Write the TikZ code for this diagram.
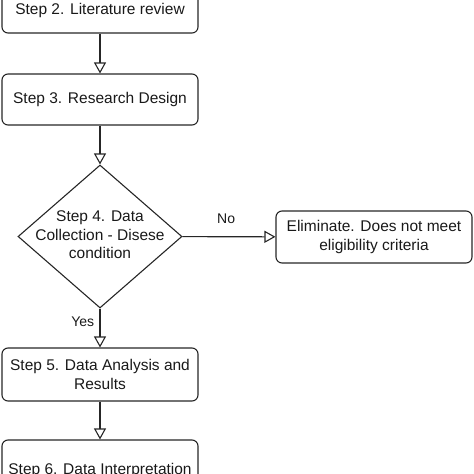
\documentclass[tikz,border=0pt]{standalone}
\usepackage{fontspec}
\setmainfont{Liberation Sans}
\usetikzlibrary{shapes.geometric,arrows.meta}
\begin{document}
\begin{tikzpicture}[x=1pt,y=-1pt,
  line width=1.1pt,
  every node/.style={font=\fontsize{15.5}{18.5}\selectfont, text=black!90},
  stepbox/.style={draw=black!85, rounded corners=6pt, minimum width=196pt, align=center, inner sep=0pt},
  conn/.style={draw=black!85, -{Triangle[open,length=11pt,width=12pt]}},
  lbl/.style={font=\fontsize{14}{16}\selectfont}]
\useasboundingbox (0,0) rectangle (474,474);
\node[stepbox, minimum height=46pt] (s2) at (100,10) {Step 2. Literature review};
\node[stepbox, minimum height=51pt] (s3) at (100,99.5) {Step 3. Research Design};
\node[draw=black!85, diamond, minimum width=164pt, minimum height=143pt, inner sep=0pt] (s4) at (100,236.5) {};
\node[align=center] (s4t) at (100,235) {Step 4. Data\\Collection - Disese\\condition};
\node[stepbox, minimum width=196pt, minimum height=52pt] (el) at (374,237) {Eliminate. Does not meet\\eligibility criteria};
\node[stepbox, minimum height=53pt] (s5) at (100,374.5) {Step 5. Data Analysis and\\Results};
\node[stepbox, minimum height=60pt] (s6) at (100,470) {Step 6. Data Interpretation};
\draw[conn] (s2) -- (s3);
\draw[conn] (s3) -- (s4);
\draw[conn] (s4) -- node[lbl, pos=0.47, above=9pt] {No} (el);
\draw[conn] (s4) -- node[lbl, pos=0.35, left=2pt] {Yes} (s5);
\draw[conn] (s5) -- (s6);
\end{tikzpicture}
\end{document}
